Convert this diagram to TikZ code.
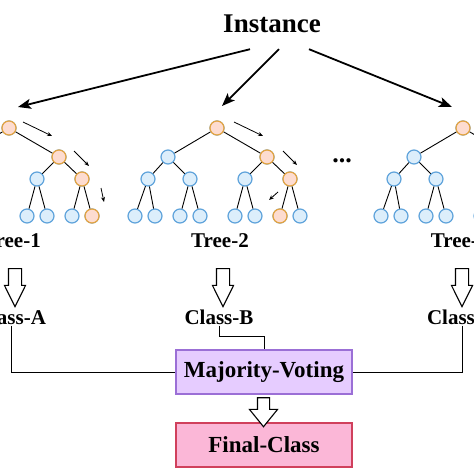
\documentclass[tikz,border=0pt]{standalone}
\usepackage{fontspec}
\setmainfont{Liberation Serif}
\usetikzlibrary{arrows.meta,shapes.arrows}

\definecolor{bluefill}{HTML}{DCEEFB}
\definecolor{blueline}{HTML}{5FA3DB}
\definecolor{orangefill}{HTML}{FDDCD0}
\definecolor{orangeline}{HTML}{E3A340}
\definecolor{votefill}{HTML}{E6CCFF}
\definecolor{voteline}{HTML}{9B6FD6}
\definecolor{finalfill}{HTML}{FBB7D7}
\definecolor{finalline}{HTML}{D0405C}

\begin{document}
\begin{tikzpicture}[x=1pt,y=-1pt,
  bnode/.style={circle,draw=blueline,fill=bluefill,line width=1.2pt,minimum size=14pt,inner sep=0pt},
  onode/.style={bnode,draw=orangeline,fill=orangefill},
  edge/.style={line width=0.9pt},
  bigarrow/.style={line width=1.8pt,-{Stealth[length=13pt,width=10pt,inset=3pt]}},
  hint/.style={line width=0.8pt,-{Stealth[length=5pt,width=4pt]}},
  label/.style={font=\fontsize{21}{21}\selectfont\bfseries,inner sep=1pt},
  fatarrow/.style={single arrow,draw,line width=1.1pt,fill=white,rotate=-90,inner sep=6pt,
    single arrow head extend=4pt,single arrow tip angle=53,minimum height=38pt},
  box/.style={draw,line width=1.2pt,minimum width=176pt,minimum height=44pt,
    font=\fontsize{23}{23}\selectfont\bfseries}]
\useasboundingbox (0,0) rectangle (474,474);
\clip (0,0) rectangle (474,474);

\node[font=\fontsize{27}{27}\selectfont\bfseries,minimum height=50pt] (inst) at (272,24) {Instance};
\coordinate (a1) at (18,107);
\coordinate (a2) at (222,106);
\coordinate (a3) at (452,107);
\draw[bigarrow] ([xshift=-22pt]inst.south) -- (a1);
\draw[bigarrow] ([xshift=7pt]inst.south) -- (a2);
\draw[bigarrow] ([xshift=37pt]inst.south) -- (a3);

% trees
\foreach \t/\r in {1/9, 2/217, 3/463} {
\node[bnode] (t\t-1) at (\r,128) {};
\foreach \i/\dx in {2/-49, 3/50} {
\node[bnode] (t\t-\i) at (\r+\dx,157) {};
}
\foreach \i/\dx in {4/-69, 5/-27, 6/28, 7/73} {
\node[bnode] (t\t-\i) at (\r+\dx,179) {};
}
\foreach \i/\dx in {8/-82, 9/-62, 10/-37, 11/-17, 12/18, 13/38, 14/63, 15/83} {
\node[bnode] (t\t-\i) at (\r+\dx,216) {};
}
\foreach \i in {2,...,15} {
\pgfmathtruncatemacro{\p}{\i/2}
\draw[edge] (t\t-\p) -- (t\t-\i);
}
}

% path taken
\foreach \n in {t1-1, t1-3, t1-7, t1-15, t2-1, t2-3, t2-7, t2-14, t3-1} {
\node[onode] (\n-hl) at (\n) {};
}

\draw[hint] (23,122) -- (52,136);
\draw[hint] (74,151) -- (89,166);
\draw[hint] (101,188) -- (104,202);
\draw[hint] (234,122) -- (263,136);
\draw[hint] (283,151) -- (297,165);
\draw[hint] (278,192) -- (269,200);

\node[font=\fontsize{26}{26}\selectfont\bfseries,anchor=base] (dots) at (342,162) {...};

% labels
\node[label] (tr1) at (12,241) {Tree-1};
\node[label] (tr2) at (220,241) {Tree-2};
\node[label] (tr3) at (462,241) {Tree-N};
\node[label] (ca) at (11,317) {Class-A};
\node[label] (cb) at (219,317) {Class-B};
\node[label] (cn) at (462,317) {Class-N};

\foreach \x/\n in {15/1, 223/2, 462/3} {
\node[fatarrow] (h\n) at (\x,281) {};
}

\node[box,fill=votefill,draw=voteline] (mv) at (264,372) {Majority-Voting};
\node[box,fill=finalfill,draw=finalline] (fc) at (264,445) {Final-Class};
\node[fatarrow,inner sep=5.5pt,single arrow head extend=8pt,single arrow tip angle=78,minimum height=29pt] (h4) at (263.5,408.5) {};

\draw[edge] (ca.south) |- (mv.west);
\draw[edge] (cn.south) |- (mv.east);
\draw[edge] (cb.south) -- ++(0,11) -| (mv.north);

\end{tikzpicture}
\end{document}
